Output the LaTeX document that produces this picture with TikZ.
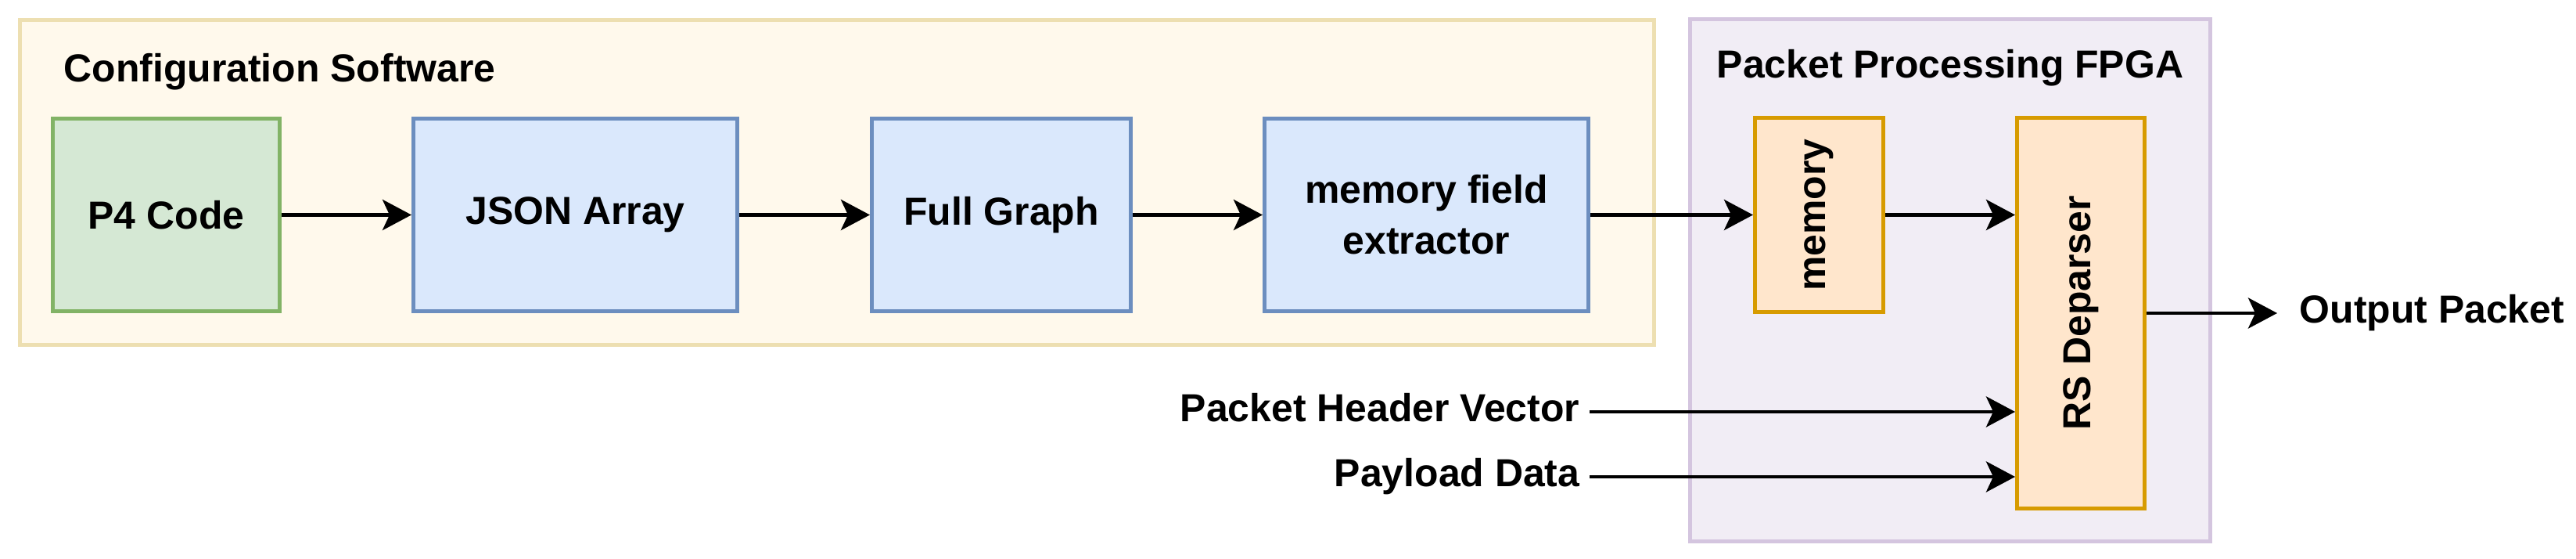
\documentclass[tikz,border=0pt]{standalone}
\usepackage{fontspec}
\setmainfont{Liberation Sans}
\usepackage{tikz}
\definecolor{swfill}{HTML}{FFF9EC}
\definecolor{swline}{HTML}{EDDFB1}
\definecolor{hwfill}{HTML}{F1EDF5}
\definecolor{hwline}{HTML}{D4C5DF}
\definecolor{codefill}{HTML}{D5E8D4}
\definecolor{codeline}{HTML}{82B366}
\definecolor{stepfill}{HTML}{DAE8FC}
\definecolor{stepline}{HTML}{6C8EBF}
\definecolor{unitfill}{HTML}{FFE6CC}
\definecolor{unitline}{HTML}{D79B00}
\usetikzlibrary{arrows.meta}

\begin{document}
\begin{tikzpicture}[
    font=\fontsize{14.2}{18.5}\selectfont\bfseries,
    group/.style={line width=0.045cm, inner sep=0pt},
    block/.style={line width=0.05cm, minimum height=2.46cm, align=center, inner sep=0pt},
    codebox/.style={block, draw=codeline, fill=codefill},
    stepbox/.style={block, draw=stepline, fill=stepfill},
    unitbox/.style={block, draw=unitline, fill=unitfill},
    lbl/.style={inner sep=0.12cm, text height=0.72em, text depth=0pt},
    flow/.style={-{Stealth[length=0.37cm, width=0.39cm, inset=0.09cm]}, line width=0.048cm}
]
    \useasboundingbox (0,0) rectangle (32.93,-7.14);

    % Groups
    \node[group, draw=swline, fill=swfill, minimum width=20.89cm, minimum height=4.15cm] (software) at (10.70,-2.33) {};
    \node[group, draw=hwline, fill=hwfill, minimum width=6.65cm, minimum height=6.67cm] (fpga) at (24.93,-3.58) {};
    \node[anchor=base west, inner sep=0pt] (swtitle) at (0.81,-1.05) {Configuration Software};
    \node[anchor=base, inner sep=0pt] (fpgatitle) at (24.93,-1.00) {Packet Processing FPGA};

    % Blocks
    \node[codebox, minimum width=2.90cm] (p4) at (2.125,-2.745) {P4 Code};
    \node[stepbox, minimum width=4.14cm] (json) at (7.355,-2.745) {JSON Array};
    \node[stepbox, minimum width=3.31cm] (graph) at (12.80,-2.745) {Full Graph};
    \node[stepbox, minimum width=4.14cm] (extract) at (18.235,-2.745) {memory field\\extractor};
    \node[unitbox, minimum width=1.64cm, minimum height=2.48cm] (mem) at (23.255,-2.745) {\rotatebox{90}{memory}};
    \node[unitbox, minimum width=1.63cm, minimum height=4.99cm] (rs) at (26.60,-4.00) {\rotatebox{90}{RS Deparser}};

    % Inputs and output
    \node[lbl, anchor=east] (phv) at (20.32,-5.26) {Packet Header Vector};
    \node[lbl, anchor=east] (payload) at (20.32,-6.09) {Payload Data};
    \node[lbl, anchor=west, inner xsep=0.28cm] (out) at (29.11,-4.00) {Output Packet};

    % Connecting lines
    \draw[flow] (p4) -- (json);
    \draw[flow] (json) -- (graph);
    \draw[flow] (graph) -- (extract);
    \draw[flow] (extract) -- (mem);
    \draw[flow] (mem.east) -- (rs.west |- mem.east);
    \draw[flow] (phv.east) -- (rs.west |- phv.east);
    \draw[flow] (payload.east) -- (rs.west |- payload.east);
    \draw[flow] (rs.east |- out.west) -- (out.west);
\end{tikzpicture}
\end{document}
